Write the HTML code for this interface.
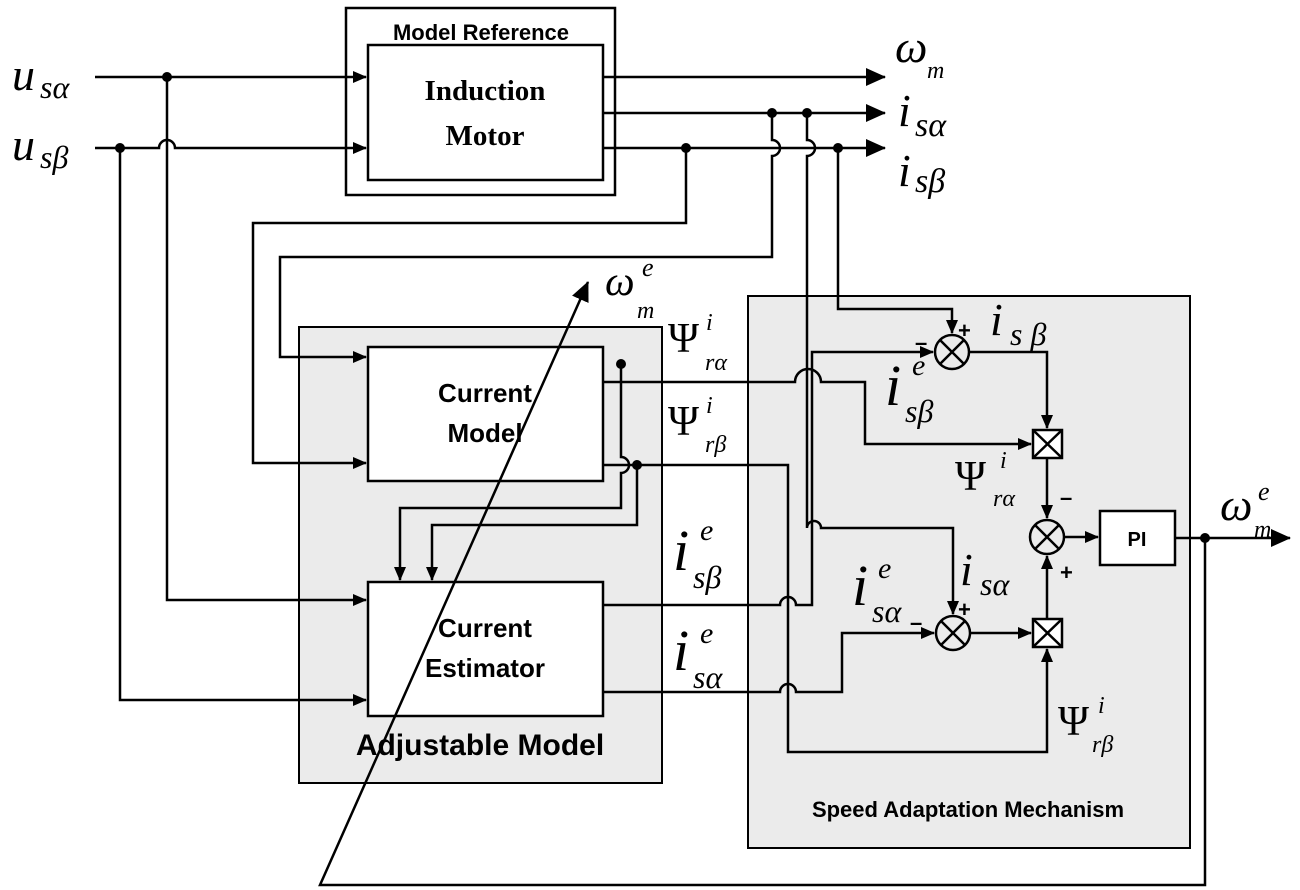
<!DOCTYPE html>
<html><head><style>
body{margin:0;background:#fff}
svg{display:block}
.i{font-family:"Liberation Serif",serif;font-style:italic;fill:#000}
.g{font-family:"Liberation Serif",serif;fill:#000}
.b{font-family:"Liberation Sans",sans-serif;font-weight:bold;fill:#000}
</style></head><body>
<svg width="1300" height="890" viewBox="0 0 1300 890" xmlns="http://www.w3.org/2000/svg">
<defs>
<marker id="a" markerWidth="14" markerHeight="12" refX="13" refY="6" orient="auto" markerUnits="userSpaceOnUse" viewBox="0 0 14 12">
<path d="M0,0 L14,6 L0,12 z" fill="#000"/></marker>
<marker id="A" markerWidth="20" markerHeight="18" refX="19" refY="9" orient="auto" markerUnits="userSpaceOnUse" viewBox="0 0 20 18">
<path d="M0,0 L20,9 L0,18 z" fill="#000"/></marker>
</defs>
<rect x="299" y="327" width="363" height="456" fill="#ebebeb" stroke="#000" stroke-width="2"/>
<rect x="748" y="296" width="442" height="552" fill="#ebebeb" stroke="#000" stroke-width="2"/>
<rect x="346" y="8" width="269" height="187" fill="#fff" stroke="#000" stroke-width="2.5"/>
<rect x="368" y="45" width="235" height="135" fill="#fff" stroke="#000" stroke-width="2.5"/>
<text x="481" y="40" class="b" font-size="22" text-anchor="middle">Model Reference</text>
<text x="485" y="100" class="b" font-size="29" text-anchor="middle" style="font-family:'Liberation Serif',serif">Induction</text>
<text x="485" y="145" class="b" font-size="29" text-anchor="middle" style="font-family:'Liberation Serif',serif">Motor</text>
<rect x="368" y="347" width="235" height="134" fill="#fff" stroke="#000" stroke-width="2.5"/>
<rect x="368" y="582" width="235" height="134" fill="#fff" stroke="#000" stroke-width="2.5"/>
<text x="485" y="402" class="b" font-size="26" text-anchor="middle">Current</text>
<text x="485" y="442" class="b" font-size="26" text-anchor="middle">Model</text>
<text x="485" y="637" class="b" font-size="26" text-anchor="middle">Current</text>
<text x="485" y="677" class="b" font-size="26" text-anchor="middle">Estimator</text>
<text x="480" y="755" class="b" font-size="30" text-anchor="middle">Adjustable Model</text>
<text x="968" y="817" class="b" font-size="22" text-anchor="middle">Speed Adaptation Mechanism</text>
<rect x="1100" y="511" width="75" height="54" fill="#fff" stroke="#000" stroke-width="2.5"/>
<text x="1137" y="546" class="b" font-size="20" text-anchor="middle">PI</text>

<g stroke="#000" stroke-width="2.5" fill="none">
<path d="M95,77 H366" marker-end="url(#a)"/>
<path d="M95,148 H159 A8,8 0 0 1 175,148 H366" marker-end="url(#a)"/>
<path d="M167,77 V600 H366" marker-end="url(#a)"/>
<path d="M120,148 V700 H366" marker-end="url(#a)"/>
<path d="M603,77 H885" marker-end="url(#A)"/>
<path d="M603,113 H885" marker-end="url(#A)"/>
<path d="M603,148 H885" marker-end="url(#A)"/>
<path d="M686,148 V223 H253 V463 H366" marker-end="url(#a)"/>
<path d="M772,113 V140 A8,8 0 0 1 772,156 V257 H280 V357 H366" marker-end="url(#a)"/>
<path d="M807,113 V140 A8,8 0 0 1 807,156 V528 A7,7 0 0 1 821,528 H953 V614" marker-end="url(#a)"/>
<path d="M838,148 V309 H952 V333" marker-end="url(#a)"/>
<path d="M603,382 H795 A13,13 0 0 1 821,382 H865 V444 H1031" marker-end="url(#a)"/>
<path d="M603,465 H788 V752 H1047 V649" marker-end="url(#a)"/>
<path d="M621,364 V457 A8,8 0 0 1 621,473 V508 H400 V580" marker-end="url(#a)"/>
<path d="M637,465 V525 H432 V580" marker-end="url(#a)"/>
<path d="M603,605 H780 A8,8 0 0 1 796,605 H812 V352 H933" marker-end="url(#a)"/>
<path d="M603,692 H780 A8,8 0 0 1 796,692 H842 V633 H934" marker-end="url(#a)"/>
<circle cx="952" cy="352" r="17"/><path d="M940,340 L964,364 M964,340 L940,364"/>
<circle cx="953" cy="633" r="17"/><path d="M941,621 L965,645 M965,621 L941,645"/>
<circle cx="1047" cy="537" r="17"/><path d="M1035,525 L1059,549 M1059,525 L1035,549"/>
<rect x="1033" y="430" width="29" height="28" fill="#fff"/><path d="M1033,430 L1062,458 M1062,430 L1033,458"/>
<rect x="1033" y="619" width="29" height="28" fill="#fff"/><path d="M1033,619 L1062,647 M1062,619 L1033,647"/>
<path d="M969,352 H1047 V428" marker-end="url(#a)"/>
<path d="M970,633 H1031" marker-end="url(#a)"/>
<path d="M1047,458 V518" marker-end="url(#a)"/>
<path d="M1047,619 V556" marker-end="url(#a)"/>
<path d="M1064,537 H1098" marker-end="url(#a)"/>
<path d="M1175,538 H1290" marker-end="url(#A)"/>
<path d="M1205,538 V885 H320 L588,282" marker-end="url(#A)"/>
</g>
<g fill="#000">
<circle cx="167" cy="77" r="5"/><circle cx="120" cy="148" r="5"/>
<circle cx="686" cy="148" r="5"/><circle cx="772" cy="113" r="5"/>
<circle cx="807" cy="113" r="5"/><circle cx="838" cy="148" r="5"/>
<circle cx="621" cy="364" r="5"/><circle cx="637" cy="465" r="5"/>
<circle cx="1205" cy="538" r="5"/>
</g>
<text x="12" y="90" class="i" font-size="46">u</text><text x="40" y="98" class="i" font-size="32">sα</text>
<text x="12" y="160" class="i" font-size="46">u</text><text x="40" y="168" class="i" font-size="32">sβ</text>
<text x="895" y="62" class="i" font-size="46">ω</text><text x="927" y="78" class="i" font-size="24">m</text>
<text x="898" y="126" class="i" font-size="46">i</text><text x="915" y="136" class="i" font-size="34">sα</text>
<text x="898" y="186" class="i" font-size="46">i</text><text x="915" y="192" class="i" font-size="34">sβ</text>
<text x="605" y="295" class="i" font-size="42">ω</text><text x="642" y="276" class="i" font-size="26">e</text><text x="637" y="318" class="i" font-size="24">m</text>
<text x="668" y="352" class="g" font-size="42">Ψ</text><text x="706" y="330" class="i" font-size="24">i</text><text x="705" y="370" class="i" font-size="24">rα</text>
<text x="668" y="435" class="g" font-size="42">Ψ</text><text x="706" y="413" class="i" font-size="24">i</text><text x="705" y="452" class="i" font-size="24">rβ</text>
<text x="673" y="570" class="i" font-size="58">i</text><text x="700" y="540" class="i" font-size="30">e</text><text x="693" y="588" class="i" font-size="32">sβ</text>
<text x="673" y="670" class="i" font-size="58">i</text><text x="700" y="643" class="i" font-size="30">e</text><text x="693" y="688" class="i" font-size="32">sα</text>
<text x="885" y="405" class="i" font-size="58">i</text><text x="912" y="375" class="i" font-size="30">e</text><text x="905" y="422" class="i" font-size="32">sβ</text>
<text x="852" y="605" class="i" font-size="58">i</text><text x="878" y="578" class="i" font-size="30">e</text><text x="872" y="622" class="i" font-size="32">sα</text>
<text x="990" y="335" class="i" font-size="46">i</text><text x="1010" y="345" class="i" font-size="32">s β</text>
<text x="960" y="585" class="i" font-size="46">i</text><text x="980" y="595" class="i" font-size="32">sα</text>
<text x="955" y="490" class="g" font-size="42">Ψ</text><text x="1000" y="468" class="i" font-size="24">i</text><text x="993" y="506" class="i" font-size="24">rα</text>
<text x="1058" y="735" class="g" font-size="42">Ψ</text><text x="1098" y="713" class="i" font-size="24">i</text><text x="1092" y="752" class="i" font-size="24">rβ</text>
<text x="1220" y="520" class="i" font-size="46">ω</text><text x="1258" y="500" class="i" font-size="26">e</text><text x="1254" y="537" class="i" font-size="24">m</text>
<g class="b" font-size="22">
<text x="958" y="338">+</text><text x="915" y="350">–</text>
<text x="958" y="617">+</text><text x="910" y="630">–</text>
<text x="1060" y="505">–</text><text x="1060" y="580">+</text>
</g>
</svg>
</body></html>
